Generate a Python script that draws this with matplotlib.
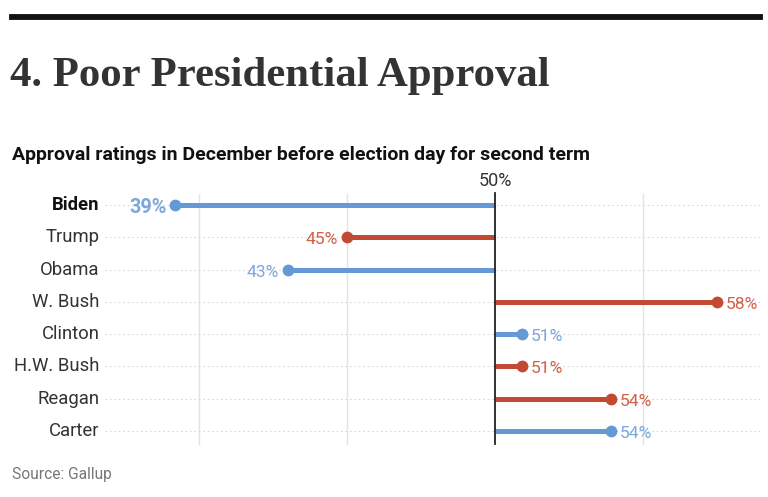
import matplotlib
matplotlib.use('Agg')
import matplotlib.pyplot as plt
from matplotlib.lines import Line2D

# approval in December before the election year, Gallup
presidents = ['Biden', 'Trump', 'Obama', 'W. Bush', 'Clinton', 'H.W. Bush', 'Reagan', 'Carter']
approval = [39.2, 45.0, 43.0, 57.5, 50.9, 50.9, 53.9, 53.9]
labels = ['39%', '45%', '43%', '58%', '51%', '51%', '54%', '54%']
party = ['D', 'R', 'D', 'R', 'D', 'R', 'R', 'D']
grid_ticks = [40, 45, 55]
midline = 50

BLUE = '#6499d6'
RED = '#c24a32'
BLUE_TXT = '#7ba7dd'
RED_TXT = '#d2614a'

W, H = 768, 497
fig = plt.figure(figsize=(W / 100, H / 100), dpi=100)

# top rule
fig.add_artist(Line2D([12 / W, 760 / W], [1 - 16.5 / H, 1 - 16.5 / H], color='#111111', lw=4.2))

fig.text(10 / W, 1 - 76 / H, '4. Poor Presidential Approval', fontsize=30.8, fontweight='bold',
         family='Liberation Serif', color='#333333', va='center', ha='left')
fig.text(12 / W, 1 - 155 / H, 'Approval ratings in December before election day for second term',
         fontsize=14, fontweight='bold', family='Roboto', color='#111111', va='center', ha='left')
fig.text(12 / W, 1 - 474 / H, 'Source: Gallup', fontsize=11.2, family='Roboto',
         color='#777777', va='center', ha='left')

ax = fig.add_axes([105 / W, 50 / H, 655 / W, 257 / H])
ax.set_xlim(36.82, 58.95)
ax.set_ylim(7.5, -0.47)
ax.axis('off')

for g in grid_ticks:
    ax.axvline(g, ymin=0.01, ymax=0.985, color='#e3e3e3', lw=1, zorder=0)
ax.axvline(midline, ymin=0.01, ymax=0.99, color='#222222', lw=1.3, zorder=3)
ax.text(midline, -0.74, '50%', ha='center', va='center', fontsize=13, family='Roboto',
        color='#333333', clip_on=False)

for i, (name, v, lab, p) in enumerate(zip(presidents, approval, labels, party)):
    col = BLUE if p == 'D' else RED
    tcol = BLUE_TXT if p == 'D' else RED_TXT
    ax.plot([36.82, 58.95], [i, i], color='#d8d8d8', lw=0.8, ls=(0, (1.5, 2.5)), zorder=0)
    ax.plot([midline, v], [i, i], color=col, lw=3.6, solid_capstyle='butt', zorder=2)
    ax.plot(v, i, 'o', color=col, ms=8.5, mec='none', zorder=4)
    bold = name == 'Biden'
    ax.text(-0.008, i, name, transform=ax.get_yaxis_transform(), ha='right', va='center',
            fontsize=13.3, fontweight='bold' if bold else 'normal',
            family='Roboto', color='#111111' if bold else '#333333')
    fs = 14.2 if bold else 12.6
    if v < midline:
        ax.text(v - 0.3, i + 0.08, lab, ha='right', va='center', fontsize=fs, color=tcol,
                fontweight='bold' if bold else 'normal', family='Roboto')
    else:
        ax.text(v + 0.3, i + 0.08, lab, ha='left', va='center', fontsize=fs, color=tcol,
                family='Roboto')

fig.savefig('out.png', dpi=100)
